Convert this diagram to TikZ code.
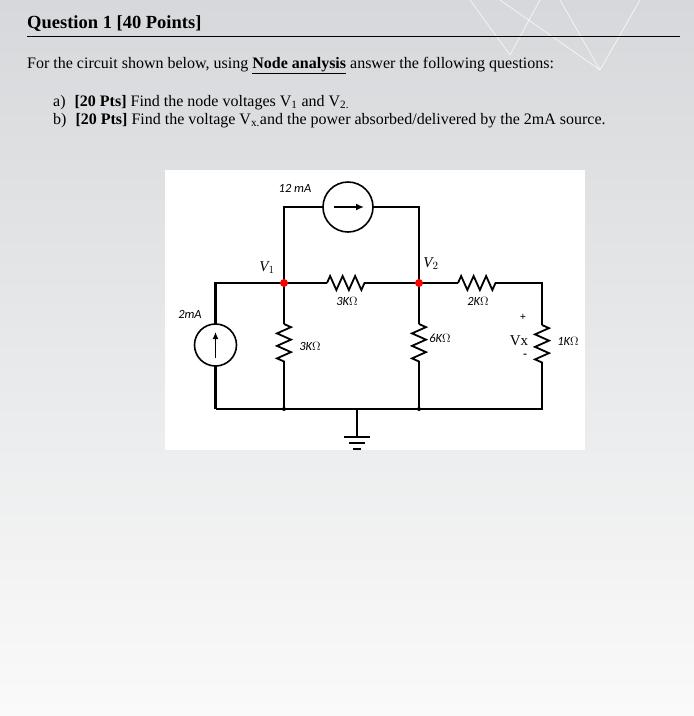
\documentclass[tikz,border=0pt]{standalone}
\usepackage{fontspec}
\setmainfont{Liberation Serif}
\newfontfamily\carlitofont{Carlito}
\usetikzlibrary{decorations.pathmorphing,arrows.meta}
\begin{document}
\begin{tikzpicture}[x=1pt,y=-1pt,
  wire/.style={line width=2.2pt},
  res/.style={line width=1.8pt,decorate,decoration={zigzag,segment length=12.5pt,amplitude=7pt}},
  lab/.style={font=\carlitofont\itshape\fontsize{12.5}{13}\selectfont,inner sep=0pt},
  src/.style={circle,draw,line width=1.6pt,minimum size=#1,inner sep=0pt,fill=white},
  dot/.style={circle,fill=red,minimum size=8pt,inner sep=0pt},
  sdot/.style={circle,fill=black,minimum size=4pt,inner sep=0pt}]
\shade[top color={rgb,255:red,214;green,216;blue,219},bottom color={rgb,255:red,250;green,250;blue,250}] (0,0) rectangle (694,716);
\useasboundingbox (0,0) rectangle (694,716);
\foreach \a/\b in {{500,0}/{600,70},{560,0}/{600,70},{640,0}/{600,70},{470,0}/{510,55},{540,0}/{510,55}}
  \draw[white,opacity=0.7,line width=0.8pt] (\a) -- (\b);
\node[anchor=base west,inner sep=0,font=\bfseries\fontsize{18.5}{20}\selectfont] (title) at (27,28) {Question 1 [40 Points]};
\draw[line width=0.8pt] (27,36) -- (680,36);
\node[anchor=base west,inner sep=0,font=\fontsize{16}{18}\selectfont] (intro) at (27,68) {For the circuit shown below, using \underline{\textbf{Node analysis}} answer the following questions:};
\node[anchor=base west,inner sep=0,font=\fontsize{16}{18}\selectfont] (qa) at (53,106) {a)\hspace{9pt}\textbf{[20 Pts]} Find the node voltages V\textsubscript{1} and V\textsubscript{2.}};
\node[anchor=base west,inner sep=0,font=\fontsize{16}{18}\selectfont] (qb) at (53,124) {b)\hspace{9pt}\textbf{[20 Pts]} Find the voltage V\textsubscript{x.}and the power absorbed/delivered by the 2mA source.};
\fill[white] (165,170) rectangle (585,450);
% coordinates
\coordinate (L) at (215.5,283); \coordinate (LB) at (215.5,409);
\coordinate (A) at (284,283); \coordinate (AB) at (284,409); \coordinate (AT) at (284,207);
\coordinate (B) at (419,283); \coordinate (BB) at (419,409); \coordinate (BT) at (419,207);
\coordinate (R) at (542,283); \coordinate (RB) at (542,409);
\coordinate (G) at (357,409); \coordinate (GB) at (357,437);
% wires
\draw[wire] (LB) -- (L) -- (A) -- (327,283);
\draw[res] (327,283) -- (365,283);
\draw[wire] (365,283) -- (B) -- (458,283);
\draw[res] (458,283) -- (497,283);
\draw[wire] (497,283) -- (R) -- (542,325);
\draw[res] (542,325) -- (542,367);
\draw[wire] (542,367) -- (RB) -- (LB);
\draw[wire] (A) -- (284,324); \draw[res] (284,324) -- (284,367); \draw[wire] (284,367) -- (AB);
\draw[wire] (B) -- (419,324); \draw[res] (419,324) -- (419,367); \draw[wire] (419,367) -- (BB);
\draw[wire] (A) -- (AT) -- (BT) -- (B);
\draw[line width=1.5pt] (G) -- (GB);
\draw[line width=1.5pt] (344,437) -- (370,437); \draw[line width=1.5pt] (349,443) -- (365,443); \draw[line width=1.5pt] (353,449) -- (361,449);
\node[src=50pt] (s12) at (348,207) {};
\draw[-{Latex[length=8pt,width=7pt]},line width=1.6pt] (334,207) -- (364,207);
\node[src=42pt] (s2) at (215.5,345) {};
\draw[-{Latex[length=7pt,width=6pt]},line width=1.6pt] (215.5,358) -- (215.5,332);
\node[dot] (n1) at (A) {}; \node[dot] (n2) at (B) {};
\node[sdot] at (AB) {}; \node[sdot] at (BB) {};
% labels
\node[lab] at (295,188) {12 mA};
\node[lab] at (190,314) {2mA};
\node[lab] at (347,301) {3K$\Omega$};
\node[lab] at (478,301) {2K$\Omega$};
\node[lab] at (310,346) {3K$\Omega$};
\node[lab] at (440,338) {6K$\Omega$};
\node[lab] at (568,341) {1K$\Omega$};
\node[inner sep=0,font=\fontsize{15}{15}\selectfont] at (519,341) {Vx};
\node[inner sep=0,font=\fontsize{11}{11}\selectfont\bfseries] at (523,317) {+};
\node[inner sep=0,font=\fontsize{12}{12}\selectfont\bfseries] at (525,356) {-};
\node[inner sep=0,font=\itshape\fontsize{15}{15}\selectfont] at (267,268) {V$_1$};
\node[inner sep=0,font=\itshape\fontsize{15}{15}\selectfont] at (431,264) {V$_2$};
\end{tikzpicture}
\end{document}
